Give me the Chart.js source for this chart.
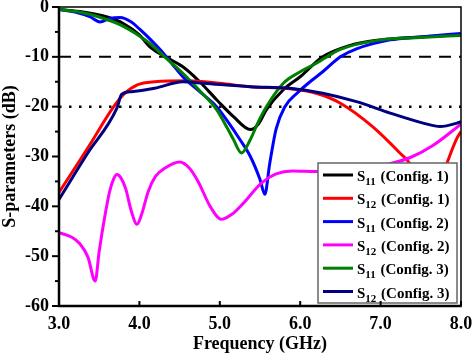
<!DOCTYPE html>
<html><head><meta charset="utf-8">
<script src="https://cdn.jsdelivr.net/npm/chart.js@4/dist/chart.umd.min.js"></script>
<style>html,body{margin:0;padding:0;background:#fff}canvas{display:block}</style>
</head><body><canvas id="c" width="474" height="355"></canvas>
<script>
// ---- data (frequency in GHz, values in dB) ----
const xTicks = [3.0, 4.0, 5.0, 6.0, 7.0, 8.0];
const yTicks = [0, -10, -20, -30, -40, -50, -60];

const s11c1F = [3.0, 3.3, 3.6, 3.8, 4.0, 4.13, 4.3, 4.54, 4.75, 4.96, 5.17, 5.38, 5.48, 5.58, 5.79, 6.0, 6.28, 6.6, 7.0, 7.5, 8.0];
const s11c1  = [-0.5, -1.0, -2.0, -3.3, -5.6, -8.0, -9.8, -12.0, -15.0, -18.6, -22.0, -24.6, -23.5, -20.6, -16.6, -14.0, -10.0, -7.8, -6.6, -6.0, -5.6];

const s12c1F = [3.0, 3.35, 3.68, 3.8, 3.98, 4.19, 4.6, 5.0, 5.38, 5.87, 6.2, 6.5, 6.9, 7.24, 7.37, 7.56, 7.74, 7.95, 8.0];
const s12c1  = [-37.2, -28.5, -20.0, -17.6, -15.6, -15.0, -14.8, -15.3, -16.0, -16.4, -17.3, -19.3, -24.0, -29.3, -31.6, -39.0, -34.6, -26.3, -25.0];

const s11c2F = [3.0, 3.2, 3.39, 3.51, 3.63, 3.76, 3.9, 4.0, 4.13, 4.26, 4.4, 4.54, 4.75, 4.96, 5.1, 5.25, 5.38, 5.5, 5.56, 5.62, 5.7, 5.81, 5.96, 6.1, 6.28, 6.5, 6.7, 7.12, 7.5, 8.0];
const s11c2  = [-0.5, -1.0, -2.0, -3.0, -2.3, -2.1, -3.0, -4.4, -6.4, -8.6, -11.3, -14.0, -17.0, -20.0, -23.0, -26.6, -30.0, -34.6, -37.6, -31.5, -24.5, -20.0, -17.3, -15.3, -13.0, -10.0, -8.4, -6.6, -6.0, -5.3];

const s12c2F = [3.0, 3.16, 3.26, 3.36, 3.45, 3.5, 3.57, 3.63, 3.68, 3.72, 3.77, 3.83, 3.9, 3.97, 4.03, 4.11, 4.2, 4.32, 4.5, 4.62, 4.73, 4.88, 5.02, 5.15, 5.28, 5.52, 5.7, 5.9, 6.2, 6.6, 7.03, 7.37, 7.65, 8.0];
const s12c2  = [-45.3, -46.2, -47.5, -50.2, -55.0, -49.0, -42.0, -37.0, -34.5, -33.6, -34.3, -36.5, -41.0, -43.6, -41.5, -37.0, -34.0, -32.3, -31.1, -32.3, -35.0, -40.0, -42.6, -41.6, -39.6, -35.3, -33.5, -32.9, -33.0, -33.0, -31.8, -30.2, -27.8, -23.5];

const s11c3F = [3.0, 3.25, 3.5, 3.75, 4.0, 4.13, 4.3, 4.54, 4.75, 4.96, 5.1, 5.17, 5.27, 5.38, 5.48, 5.58, 5.79, 6.0, 6.2, 6.3, 6.5, 7.0, 7.5, 8.0];
const s11c3  = [-0.5, -1.0, -2.0, -3.5, -5.8, -7.3, -9.8, -13.3, -16.8, -20.6, -24.5, -26.6, -29.3, -26.6, -23.0, -20.0, -15.3, -13.0, -11.3, -10.3, -8.5, -6.6, -6.1, -5.7];

const s12c3F = [3.0, 3.35, 3.72, 3.78, 3.9, 4.19, 4.54, 4.8, 5.38, 5.87, 6.28, 6.7, 7.12, 7.53, 7.74, 7.95, 8.0];
const s12c3  = [-38.6, -29.5, -20.3, -17.5, -17.0, -16.3, -15.0, -15.3, -16.0, -16.3, -17.3, -19.0, -21.3, -23.3, -24.0, -23.3, -23.0];

const refDashed = -10;
const refDotted = -20;

const seriesLabels = ['S₁₁ (Config. 1)', 'S₁₂ (Config. 1)', 'S₁₁ (Config. 2)', 'S₁₂ (Config. 2)', 'S₁₁ (Config. 3)', 'S₁₂ (Config. 3)'];
const seriesColors = ['#000000', '#ff0000', '#0000ff', '#ff00ff', '#008000', '#000080'];

// ---- chart ----
const FONT = "'Liberation Serif','Times New Roman',serif";
function pts(xs, ys) { return xs.map((x, i) => ({ x: x, y: ys[i] })); }

const seriesData = [[s11c1F, s11c1], [s12c1F, s12c1], [s11c2F, s11c2], [s12c2F, s12c2], [s11c3F, s11c3], [s12c3F, s12c3]];
const datasets = seriesData.map((s, i) => ({
  label: seriesLabels[i],
  data: pts(s[0], s[1]),
  borderColor: seriesColors[i],
  backgroundColor: seriesColors[i],
  borderWidth: 3,
  pointRadius: 0,
  cubicInterpolationMode: 'monotone',
  order: 5 - i,
  isSeries: true
}));
datasets.push({
  label: 'ref -10', data: [{ x: 3, y: refDashed }, { x: 8, y: refDashed }],
  borderColor: '#000', borderWidth: 2, borderDash: [12, 8], pointRadius: 0, order: 20
});
datasets.push({
  label: 'ref -20', data: [{ x: 3, y: refDotted }, { x: 8, y: refDotted }],
  borderColor: '#000', borderWidth: 2.5, borderDash: [2.5, 7.5], pointRadius: 0, order: 21
});

function drawLabel(ctx, text, x, y) {
  const subMap = { '₁': '1', '₂': '2' };
  let i = 0;
  ctx.textBaseline = 'alphabetic';
  ctx.textAlign = 'left';
  let cx = x;
  while (i < text.length) {
    const ch = text[i];
    if (subMap[ch]) {
      let s = '';
      while (i < text.length && subMap[text[i]]) { s += subMap[text[i]]; i++; }
      ctx.font = 'bold 11px ' + FONT;
      ctx.fillText(s, cx, y + 4);
      cx += ctx.measureText(s).width + 1;
    } else {
      let s = '';
      while (i < text.length && !subMap[text[i]]) { s += text[i]; i++; }
      ctx.font = 'bold 15px ' + FONT;
      ctx.fillText(s, cx, y);
      cx += ctx.measureText(s).width;
    }
  }
}

const decor = {
  id: 'decor',
  afterDatasetsDraw(chart) {
    const { ctx, chartArea: a, scales } = chart;
    const xs = scales.x, ys = scales.y;
    ctx.save();
    // legend box
    const bx = a.right - 143, by = a.bottom - 143, bw = 139, bh = 140;
    ctx.fillStyle = '#ffffff';
    ctx.fillRect(bx, by, bw, bh);
    ctx.strokeStyle = '#666666';
    ctx.lineWidth = 1.5;
    ctx.strokeRect(bx, by, bw, bh);
    chart.data.datasets.filter(d => d.isSeries).forEach((d, i) => {
      const ry = by + 12 + i * 23.3;
      ctx.strokeStyle = d.borderColor;
      ctx.lineWidth = 3;
      ctx.setLineDash([]);
      ctx.beginPath();
      ctx.moveTo(bx + 5, ry);
      ctx.lineTo(bx + 35, ry);
      ctx.stroke();
      ctx.fillStyle = '#000';
      drawLabel(ctx, d.label, bx + 39, ry + 6);
    });
    // ticks
    ctx.strokeStyle = '#000';
    ctx.lineWidth = 2;
    for (let v = -60; v <= 0; v += 5) {
      const py = ys.getPixelForValue(v);
      const len = (v % 10 === 0) ? 7 : 4;
      ctx.beginPath(); ctx.moveTo(a.left - len, py); ctx.lineTo(a.left, py); ctx.stroke();
    }
    xTicks.forEach(v => {
      const px = xs.getPixelForValue(v);
      ctx.beginPath(); ctx.moveTo(px, a.bottom); ctx.lineTo(px, a.bottom - 5); ctx.stroke();
    });
    // frame
    ctx.lineWidth = 1.5;
    ctx.beginPath(); ctx.moveTo(a.left, a.top); ctx.lineTo(a.right, a.top); ctx.lineTo(a.right, a.bottom); ctx.stroke();
    ctx.lineWidth = 2.5;
    ctx.beginPath(); ctx.moveTo(a.left, a.top - 0.5); ctx.lineTo(a.left, a.bottom); ctx.lineTo(a.right + 0.75, a.bottom); ctx.stroke();
    ctx.restore();
  }
};

new Chart(document.getElementById('c'), {
  type: 'line',
  data: { datasets: datasets },
  options: {
    responsive: false,
    animation: false,
    devicePixelRatio: 1,
    layout: { padding: { top: 7, right: 13, left: 0, bottom: 0 } },
    plugins: { legend: { display: false }, tooltip: { enabled: false } },
    scales: {
      x: {
        type: 'linear', min: 3, max: 8,
        afterFit(s) { s.height = 49; s.paddingLeft = 0; s.paddingRight = 0; },
        afterBuildTicks(s) { s.ticks = xTicks.map(v => ({ value: v })); },
        ticks: { color: '#000', font: { family: FONT, size: 18, weight: 'bold' }, padding: 8, maxRotation: 0,
                 callback: v => Number(v).toFixed(1) },
        grid: { display: false, drawTicks: false },
        border: { display: false },
        title: { display: true, text: 'Frequency (GHz)', color: '#000', font: { family: FONT, size: 18, weight: 'bold' }, padding: { top: 0, bottom: 0 } }
      },
      y: {
        min: -60, max: 0,
        afterFit(s) { s.width = 59; s.paddingTop = 0; s.paddingBottom = 0; },
        afterBuildTicks(s) { s.ticks = yTicks.map(v => ({ value: v })); },
        ticks: { color: '#000', font: { family: FONT, size: 18, weight: 'bold' }, padding: 10 },
        grid: { display: false, drawTicks: false },
        border: { display: false },
        title: { display: true, text: 'S-parameters (dB)', color: '#000', font: { family: FONT, size: 18, weight: 'bold' }, padding: { top: 0, bottom: 0 } }
      }
    }
  },
  plugins: [decor]
});
</script></body></html>
